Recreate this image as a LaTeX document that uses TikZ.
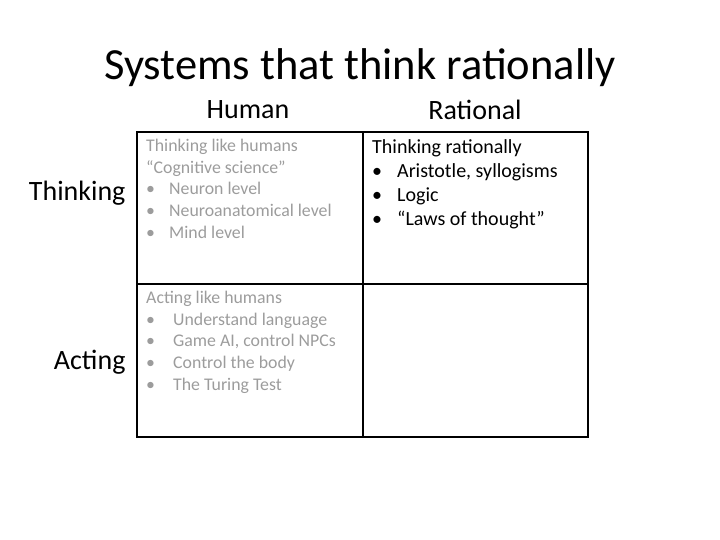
\documentclass[tikz,border=0pt]{standalone}
\usepackage{fontspec}
\setmainfont{Carlito}
\definecolor{lg}{HTML}{9C9C9C}
\newcommand{\blt}[2]{\makebox[#1][l]{•}#2}
\begin{document}
\begin{tikzpicture}[x=1pt,y=-1pt,
  hdr/.style={font=\fontsize{28}{32}\selectfont},
  cell/.style={anchor=north west,align=left,inner sep=0pt}]
\useasboundingbox (0,0) rectangle (720,540);
\node (title) at (360,68) {\fontsize{44.5}{50}\selectfont Systems that think rationally};
\node[hdr] (hum) at (248,110) {Human};
\node[hdr] (rat) at (475,110) {Rational};
\node[hdr,anchor=east] (thk) at (129,193) {Thinking};
\node[hdr,anchor=east] (act) at (129,362) {Acting};
\draw[line width=1.5pt] (137,132) rectangle (588,437);
\draw[line width=1.5pt] (363,132) -- (363,437) (137,284) -- (588,284);
\node[cell,text=lg,font=\fontsize{17.8}{21.7}\selectfont] (c1) at (146,139) {Thinking like humans\\“Cognitive science”\\\blt{23pt}{Neuron level}\\\blt{23pt}{Neuroanatomical level}\\\blt{23pt}{Mind level}};
\node[cell,font=\fontsize{20}{24.2}\selectfont] (c2) at (372,139) {Thinking rationally\\\blt{25pt}{Aristotle, syllogisms}\\\blt{25pt}{Logic}\\\blt{25pt}{“Laws of thought”}};
\node[cell,text=lg,font=\fontsize{17.8}{21.7}\selectfont] (c3) at (146,291) {Acting like humans\\\blt{27pt}{Understand language}\\\blt{27pt}{Game AI, control NPCs}\\\blt{27pt}{Control the body}\\\blt{27pt}{The Turing Test}};
\end{tikzpicture}
\end{document}
